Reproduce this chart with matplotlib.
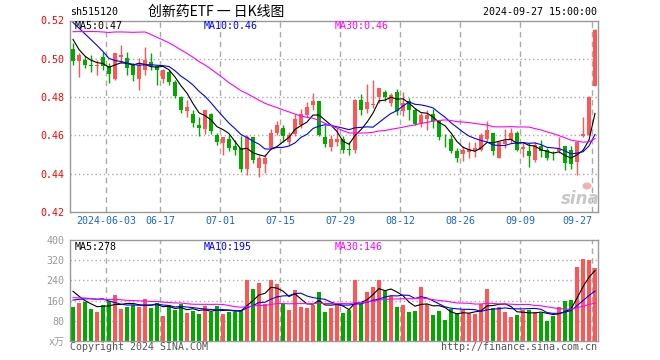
import numpy as np
import pandas as pd
import matplotlib
matplotlib.use("Agg")
import matplotlib.pyplot as plt
from matplotlib.patches import Ellipse

# ---- daily bars (2024-05-24 .. 2024-09-27) ----
opens = [.5049, .4988, .4996, .4965, .4965, .5009, .4961, .4896, .5009, .5005,
         .4967, .4896, .4940, .4984, .4961, .4895, .4932, .4877, .4798, .4726,
         .4712, .4654, .4636, .4714, .4604, .4558, .4582, .4546, .4533, .4425,
         .4591, .4428, .4451, .4533, .4612, .4639, .4568, .4609, .4656, .4704,
         .4758, .4779, .4591, .4539, .4567, .4582, .4528, .4525, .4784, .4739,
         .4758, .4802, .4828, .4770, .4828, .4726, .4779, .4735, .4661, .4688,
         .4714, .4674, .4577, .4582, .4516, .4504, .4512, .4516, .4525, .4582,
         .4612, .4484, .4556, .4577, .4612, .4528, .4516, .4472, .4546, .4525,
         .4493, .4516, .4546, .4525, .4463, .4596, .4604, .4856]
highs = [.5084, .5032, .5014, .5018, .4996, .5037, .4979, .5032, .5070, .5037,
         .4979, .5005, .5061, .5032, .4970, .4946, .4944, .4891, .4807, .4786,
         .4733, .4695, .4735, .4716, .4615, .4592, .4604, .4574, .4598, .4604,
         .4591, .4498, .4502, .4635, .4677, .4656, .4616, .4714, .4739, .4774,
         .4819, .4779, .4656, .4604, .4639, .4595, .4568, .4788, .4814, .4867,
         .4889, .4846, .4837, .4823, .4844, .4828, .4796, .4744, .4716, .4735,
         .4739, .4682, .4609, .4604, .4533, .4546, .4568, .4568, .4612, .4677,
         .4612, .4568, .4635, .4639, .4621, .4568, .4560, .4568, .4577, .4533,
         .4516, .4591, .4546, .4546, .4568, .4695, .4808, .5158]
lows = [.4970, .4905, .4953, .4932, .4914, .4944, .4874, .4891, .4979, .4918,
        .4882, .4839, .4918, .4944, .4861, .4874, .4861, .4795, .4716, .4695,
        .4646, .4598, .4609, .4605, .4552, .4500, .4520, .4499, .4411, .4393,
        .4454, .4381, .4402, .4528, .4604, .4568, .4551, .4598, .4639, .4696,
        .4735, .4595, .4542, .4516, .4546, .4507, .4498, .4507, .4704, .4718,
        .4742, .4770, .4779, .4753, .4709, .4700, .4682, .4656, .4646, .4630,
        .4639, .4577, .4539, .4507, .4463, .4467, .4484, .4488, .4516, .4568,
        .4498, .4481, .4533, .4560, .4516, .4488, .4433, .4463, .4488, .4472,
        .4472, .4507, .4419, .4423, .4393, .4593, .4604, .4856]
closes = [.4988, .5018, .4967, .4962, .4967, .4961, .4921, .5028, .5018, .4953,
          .4918, .4967, .4996, .4961, .4940, .4939, .4877, .4807, .4733, .4746,
          .4667, .4637, .4735, .4621, .4568, .4591, .4533, .4525, .4423, .4591,
          .4472, .4484, .4484, .4612, .4656, .4595, .4604, .4688, .4714, .4747,
          .4779, .4604, .4556, .4582, .4581, .4525, .4525, .4784, .4735, .4775,
          .4763, .4846, .4802, .4811, .4726, .4770, .4735, .4661, .4704, .4709,
          .4674, .4591, .4574, .4516, .4484, .4525, .4528, .4533, .4604, .4626,
          .4516, .4568, .4572, .4612, .4525, .4537, .4495, .4551, .4516, .4484,
          .4490, .4530, .4454, .4451, .4568, .4605, .4800, .5151]
volumes = [135, 151, 154, 126, 114, 142, 160, 181, 126, 135,
           142, 134, 166, 130, 152, 98, 142, 122, 148, 110,
           118, 106, 138, 115, 138, 107, 115, 115, 122, 241,
           205, 229, 147, 241, 225, 147, 122, 201, 135, 130,
           142, 193, 114, 131, 144, 111, 122, 241, 146, 195,
           215, 241, 199, 180, 135, 142, 114, 118, 215, 146,
           103, 118, 82, 126, 110, 123, 111, 107, 146, 207,
           132, 134, 115, 95, 103, 122, 122, 115, 110, 79,
           99, 135, 159, 162, 294, 326, 322, 290]
# sessions before the window, only used so the moving averages start where they do
warm_close = [.500, .497, .495, .498, .502, .499, .496, .501, .498, .495, .494, .497,
              .536, .538, .535, .533, .534, .531, .529, .527,
              .531, .527, .526, .527, .528, .528, .514, .507, .5027]
warm_vol = [190, 165, 180, 210, 160, 175, 150, 185, 200, 170,
            165, 180, 190, 155, 175, 185, 170, 160, 195, 175,
            120, 135, 125, 130, 125, 250, 240, 190, 170]

holidays = ["2024-06-10", "2024-09-16", "2024-09-17"]
tick_dates = ["2024-06-03", "2024-06-17", "2024-07-01", "2024-07-15", "2024-07-29",
              "2024-08-12", "2024-08-26", "2024-09-09", "2024-09-27"]
tick_labels = ["2024-06-03", "06-17", "07-01", "07-15", "07-29",
               "08-12", "08-26", "09-09", "09-27"]
price_ticks = [0.42, 0.44, 0.46, 0.48, 0.50, 0.52]
vol_ticks = [0, 80, 160, 240, 320, 400]
vol_tick_labels = ["x万", "80", "160", "240", "320", "400"]

dates = pd.bdate_range("2024-05-24", "2024-09-27")
dates = dates[~dates.isin(pd.to_datetime(holidays))]
tick_pos = [dates.get_loc(pd.Timestamp(d)) - 0.5 for d in tick_dates]

n = len(closes)
x = np.arange(n)
o, h, l, c = map(np.array, (opens, highs, lows, closes))
c_all = pd.Series(warm_close + closes)
v_all = pd.Series(warm_vol + volumes)
nw = len(warm_close)
ma_p = {k: c_all.rolling(k).mean().to_numpy()[nw:] for k in (5, 10, 30)}
ma_v = {k: v_all.rolling(k).mean().to_numpy()[nw:] for k in (5, 10, 30)}

RED, GREEN = "#ff5555", "#00a800"
MA_COL = {5: "black", 10: "#0000ff", 30: "#ff00ff"}
GRID = "#aaaaaa"
MONO = "DejaVu Sans Mono"
CJK = ["Noto Sans CJK SC", "DejaVu Sans"]
col = np.where(c > o, RED, GREEN)

W, H = 660, 360
fig = plt.figure(figsize=(W / 100, H / 100), dpi=100)

def box(left, top, right, bottom):
    return [left / W, 1 - bottom / H, (right - left) / W, (bottom - top) / H]

def ftext(px, py, s, **kw):
    kw.setdefault("family", MONO)
    kw.setdefault("fontsize", 7.2)
    kw.setdefault("va", "center")
    fig.text(px / W, 1 - py / H, s, **kw)

ax = fig.add_axes(box(70, 20.5, 598, 212))
axv = fig.add_axes(box(70, 240, 598, 341))

for a in (ax, axv):
    a.set_xlim(-0.5, n - 0.5)
    for s in a.spines.values():
        s.set_color("#999999"); s.set_linewidth(1)
    for t in tick_pos:
        a.axvline(t, color=GRID, lw=1, ls=(0, (4, 3)), zorder=0)

# ---- price panel ----
for y in price_ticks[1:-1]:
    ax.axhline(y, color=GRID, lw=1, ls=(0, (1, 2)), zorder=0)
ax.vlines(x, l, h, colors=col, lw=1, zorder=2)
ax.bar(x, np.maximum(np.abs(c - o), 0.0004), 0.82, bottom=np.minimum(o, c),
       color=col, lw=0, zorder=3)
for k in (5, 10, 30):
    ax.plot(x, ma_p[k], color=MA_COL[k], lw=0.8, zorder=4)
ax.set_ylim(0.42, 0.52)
ax.set_yticks(price_ticks)
ax.set_yticklabels([f"{t:.2f}" for t in price_ticks], family=MONO, fontsize=7.2, color="#ff0000")
ax.set_xticks(tick_pos)
ax.set_xticklabels(tick_labels, family=MONO, fontsize=7.2, color="#1a66cc")
ax.get_xticklabels()[-1].set_horizontalalignment("right")
ax.tick_params(length=0, pad=4)
ax.tick_params(axis="x", pad=3)

# ---- volume panel ----
for y in vol_ticks[1:-1]:
    axv.axhline(y, color=GRID, lw=1, ls=(0, (1, 2)), zorder=0)
axv.bar(x, volumes, 0.82, color=col, lw=0, zorder=2)
for k in (5, 10, 30):
    axv.plot(x, ma_v[k], color=MA_COL[k], lw=0.8, zorder=3)
axv.set_ylim(0, 400)
axv.set_yticks(vol_ticks)
axv.set_yticklabels(vol_tick_labels, family=[MONO, "Noto Sans CJK SC"], fontsize=7.2, color="#999999")
axv.set_xticks([])
axv.tick_params(length=0, pad=4)

# ---- texts ----
ftext(70, 12, "sh515120")
ftext(216, 12, "创新药ETF 一 日K线图", family=CJK, fontsize=10, ha="center")
ftext(597, 12, "2024-09-27 15:00:00", ha="right")
ftext(75, 26, "MA5:0.47", color="black")
ftext(204, 26, "MA10:0.46", color="#0000ff")
ftext(335, 26, "MA30:0.46", color="#ff00ff")
ftext(75, 247, "MA5:278", color="black")
ftext(204, 247, "MA10:195", color="#0000ff")
ftext(335, 247, "MA30:146", color="#ff00ff")
ftext(70, 347, "Copyright 2024 SINA.COM", color="#555555")
ftext(597, 347, "http://finance.sina.com.cn", color="#555555", ha="right")

# sina watermark
ftext(580, 199, "sina", family="DejaVu Sans", fontsize=12, style="italic",
      weight="bold", color="#c8c8c8", ha="center")
fig.patches.append(Ellipse((587 / W, 1 - 186 / H), 9 / W, 7 / H,
                           transform=fig.transFigure, color="#f4b0b0", lw=0))

fig.savefig("out.png", dpi=100)
